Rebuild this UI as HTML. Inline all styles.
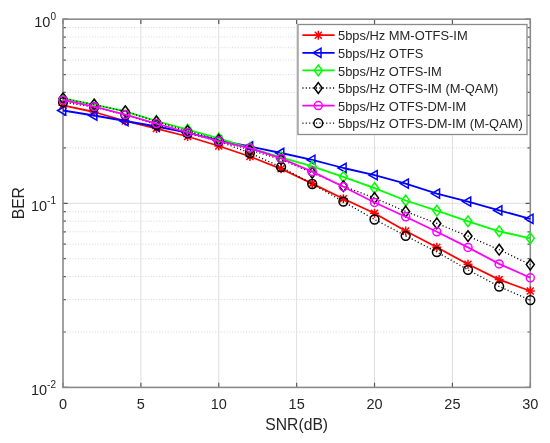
<!DOCTYPE html><html><head><meta charset="utf-8"><title>BER vs SNR</title><style>
html,body{margin:0;padding:0;background:#fff;}
svg{display:block;}
text{font-family:"Liberation Sans",Arial,Helvetica,sans-serif;fill:#262626;}
</style></head><body>
<svg width="550" height="443" viewBox="0 0 550 443">
<rect x="0" y="0" width="550" height="443" fill="#fff"/>
<path d="M64 331.98H529.3M64 299.56H529.3M64 276.56H529.3M64 258.72H529.3M64 244.14H529.3M64 231.82H529.3M64 221.14H529.3M64 211.72H529.3M64 147.88H529.3M64 115.46H529.3M64 92.46H529.3M64 74.62H529.3M64 60.04H529.3M64 47.72H529.3M64 37.04H529.3M64 27.62H529.3" stroke="#d9d9d9" stroke-width="1" stroke-dasharray="1.1 1.7" fill="none"/>
<path d="M140.88 20.2V386.4M218.77 20.2V386.4M296.65 20.2V386.4M374.53 20.2V386.4M452.42 20.2V386.4M64 203.3H529.3" stroke="#dedede" stroke-width="1" fill="none"/>
<path d="M63 387.4V382.7M63 19.2V23.9M140.88 387.4V382.7M140.88 19.2V23.9M218.77 387.4V382.7M218.77 19.2V23.9M296.65 387.4V382.7M296.65 19.2V23.9M374.53 387.4V382.7M374.53 19.2V23.9M452.42 387.4V382.7M452.42 19.2V23.9M530.3 387.4V382.7M530.3 19.2V23.9M63 387.4H67.7M530.3 387.4H525.6M63 331.98H65.82M530.3 331.98H527.48M63 299.56H65.82M530.3 299.56H527.48M63 276.56H65.82M530.3 276.56H527.48M63 258.72H65.82M530.3 258.72H527.48M63 244.14H65.82M530.3 244.14H527.48M63 231.82H65.82M530.3 231.82H527.48M63 221.14H65.82M530.3 221.14H527.48M63 211.72H65.82M530.3 211.72H527.48M63 203.3H67.7M530.3 203.3H525.6M63 147.88H65.82M530.3 147.88H527.48M63 115.46H65.82M530.3 115.46H527.48M63 92.46H65.82M530.3 92.46H527.48M63 74.62H65.82M530.3 74.62H527.48M63 60.04H65.82M530.3 60.04H527.48M63 47.72H65.82M530.3 47.72H527.48M63 37.04H65.82M530.3 37.04H527.48M63 27.62H65.82M530.3 27.62H527.48M63 19.2H67.7M530.3 19.2H525.6" stroke="#5a5a5a" stroke-width="1.2" fill="none"/>
<rect x="63" y="19.2" width="467.3" height="368.2" stroke="#8a8a8a" stroke-width="1.6" fill="none"/>
<polyline points="63,105.3 94.15,112 125.31,121 156.46,128.5 187.61,136.5 218.77,146 249.92,156.5 281.07,168.8 312.23,183.6 343.38,198.8 374.53,213.2 405.69,231 436.84,247.3 467.99,264.3 499.15,279.6 530.3,291" stroke="#ff0000" stroke-width="1.8" fill="none" stroke-linejoin="round"/>
<path d="M58.5 105.3H67.5M63 100.8V109.8M59.5 101.8L66.5 108.8M59.5 108.8L66.5 101.8" stroke="#ff0000" stroke-width="1.5" fill="none"/>
<path d="M89.65 112H98.65M94.15 107.5V116.5M90.65 108.5L97.65 115.5M90.65 115.5L97.65 108.5" stroke="#ff0000" stroke-width="1.5" fill="none"/>
<path d="M120.81 121H129.81M125.31 116.5V125.5M121.81 117.5L128.81 124.5M121.81 124.5L128.81 117.5" stroke="#ff0000" stroke-width="1.5" fill="none"/>
<path d="M151.96 128.5H160.96M156.46 124V133M152.96 125L159.96 132M152.96 132L159.96 125" stroke="#ff0000" stroke-width="1.5" fill="none"/>
<path d="M183.11 136.5H192.11M187.61 132V141M184.11 133L191.11 140M184.11 140L191.11 133" stroke="#ff0000" stroke-width="1.5" fill="none"/>
<path d="M214.27 146H223.27M218.77 141.5V150.5M215.27 142.5L222.27 149.5M215.27 149.5L222.27 142.5" stroke="#ff0000" stroke-width="1.5" fill="none"/>
<path d="M245.42 156.5H254.42M249.92 152V161M246.42 153L253.42 160M246.42 160L253.42 153" stroke="#ff0000" stroke-width="1.5" fill="none"/>
<path d="M276.57 168.8H285.57M281.07 164.3V173.3M277.57 165.3L284.57 172.3M277.57 172.3L284.57 165.3" stroke="#ff0000" stroke-width="1.5" fill="none"/>
<path d="M307.73 183.6H316.73M312.23 179.1V188.1M308.73 180.1L315.73 187.1M308.73 187.1L315.73 180.1" stroke="#ff0000" stroke-width="1.5" fill="none"/>
<path d="M338.88 198.8H347.88M343.38 194.3V203.3M339.88 195.3L346.88 202.3M339.88 202.3L346.88 195.3" stroke="#ff0000" stroke-width="1.5" fill="none"/>
<path d="M370.03 213.2H379.03M374.53 208.7V217.7M371.03 209.7L378.03 216.7M371.03 216.7L378.03 209.7" stroke="#ff0000" stroke-width="1.5" fill="none"/>
<path d="M401.19 231H410.19M405.69 226.5V235.5M402.19 227.5L409.19 234.5M402.19 234.5L409.19 227.5" stroke="#ff0000" stroke-width="1.5" fill="none"/>
<path d="M432.34 247.3H441.34M436.84 242.8V251.8M433.34 243.8L440.34 250.8M433.34 250.8L440.34 243.8" stroke="#ff0000" stroke-width="1.5" fill="none"/>
<path d="M463.49 264.3H472.49M467.99 259.8V268.8M464.49 260.8L471.49 267.8M464.49 267.8L471.49 260.8" stroke="#ff0000" stroke-width="1.5" fill="none"/>
<path d="M494.65 279.6H503.65M499.15 275.1V284.1M495.65 276.1L502.65 283.1M495.65 283.1L502.65 276.1" stroke="#ff0000" stroke-width="1.5" fill="none"/>
<path d="M525.8 291H534.8M530.3 286.5V295.5M526.8 287.5L533.8 294.5M526.8 294.5L533.8 287.5" stroke="#ff0000" stroke-width="1.5" fill="none"/>
<polyline points="63,110.5 94.15,115.5 125.31,121 156.46,126.5 187.61,132.7 218.77,140.3 249.92,146.5 281.07,153 312.23,159.8 343.38,168 374.53,175.2 405.69,183.6 436.84,193.6 467.99,201.6 499.15,210.4 530.3,218.8" stroke="#0000ff" stroke-width="1.8" fill="none" stroke-linejoin="round"/>
<path d="M57.6 110.5L65.7 105.9L65.7 115.1Z" stroke="#0000ff" stroke-width="1.5" fill="none"/>
<path d="M88.75 115.5L96.85 110.9L96.85 120.1Z" stroke="#0000ff" stroke-width="1.5" fill="none"/>
<path d="M119.91 121L128.01 116.4L128.01 125.6Z" stroke="#0000ff" stroke-width="1.5" fill="none"/>
<path d="M151.06 126.5L159.16 121.9L159.16 131.1Z" stroke="#0000ff" stroke-width="1.5" fill="none"/>
<path d="M182.21 132.7L190.31 128.1L190.31 137.3Z" stroke="#0000ff" stroke-width="1.5" fill="none"/>
<path d="M213.37 140.3L221.47 135.7L221.47 144.9Z" stroke="#0000ff" stroke-width="1.5" fill="none"/>
<path d="M244.52 146.5L252.62 141.9L252.62 151.1Z" stroke="#0000ff" stroke-width="1.5" fill="none"/>
<path d="M275.67 153L283.77 148.4L283.77 157.6Z" stroke="#0000ff" stroke-width="1.5" fill="none"/>
<path d="M306.83 159.8L314.93 155.2L314.93 164.4Z" stroke="#0000ff" stroke-width="1.5" fill="none"/>
<path d="M337.98 168L346.08 163.4L346.08 172.6Z" stroke="#0000ff" stroke-width="1.5" fill="none"/>
<path d="M369.13 175.2L377.23 170.6L377.23 179.8Z" stroke="#0000ff" stroke-width="1.5" fill="none"/>
<path d="M400.29 183.6L408.39 179L408.39 188.2Z" stroke="#0000ff" stroke-width="1.5" fill="none"/>
<path d="M431.44 193.6L439.54 189L439.54 198.2Z" stroke="#0000ff" stroke-width="1.5" fill="none"/>
<path d="M462.59 201.6L470.69 197L470.69 206.2Z" stroke="#0000ff" stroke-width="1.5" fill="none"/>
<path d="M493.75 210.4L501.85 205.8L501.85 215Z" stroke="#0000ff" stroke-width="1.5" fill="none"/>
<path d="M524.9 218.8L533 214.2L533 223.4Z" stroke="#0000ff" stroke-width="1.5" fill="none"/>
<polyline points="63,98.4 94.15,104.6 125.31,111.3 156.46,121 187.61,129.6 218.77,138.4 249.92,148 281.07,157.4 312.23,166.4 343.38,176.8 374.53,188.1 405.69,200.5 436.84,210.7 467.99,221.3 499.15,231.3 530.3,238.3" stroke="#00ff00" stroke-width="1.8" fill="none" stroke-linejoin="round"/>
<path d="M63 93L67 98.4L63 103.8L59 98.4Z" stroke="#00ff00" stroke-width="1.5" fill="none"/>
<path d="M94.15 99.2L98.15 104.6L94.15 110L90.15 104.6Z" stroke="#00ff00" stroke-width="1.5" fill="none"/>
<path d="M125.31 105.9L129.31 111.3L125.31 116.7L121.31 111.3Z" stroke="#00ff00" stroke-width="1.5" fill="none"/>
<path d="M156.46 115.6L160.46 121L156.46 126.4L152.46 121Z" stroke="#00ff00" stroke-width="1.5" fill="none"/>
<path d="M187.61 124.2L191.61 129.6L187.61 135L183.61 129.6Z" stroke="#00ff00" stroke-width="1.5" fill="none"/>
<path d="M218.77 133L222.77 138.4L218.77 143.8L214.77 138.4Z" stroke="#00ff00" stroke-width="1.5" fill="none"/>
<path d="M249.92 142.6L253.92 148L249.92 153.4L245.92 148Z" stroke="#00ff00" stroke-width="1.5" fill="none"/>
<path d="M281.07 152L285.07 157.4L281.07 162.8L277.07 157.4Z" stroke="#00ff00" stroke-width="1.5" fill="none"/>
<path d="M312.23 161L316.23 166.4L312.23 171.8L308.23 166.4Z" stroke="#00ff00" stroke-width="1.5" fill="none"/>
<path d="M343.38 171.4L347.38 176.8L343.38 182.2L339.38 176.8Z" stroke="#00ff00" stroke-width="1.5" fill="none"/>
<path d="M374.53 182.7L378.53 188.1L374.53 193.5L370.53 188.1Z" stroke="#00ff00" stroke-width="1.5" fill="none"/>
<path d="M405.69 195.1L409.69 200.5L405.69 205.9L401.69 200.5Z" stroke="#00ff00" stroke-width="1.5" fill="none"/>
<path d="M436.84 205.3L440.84 210.7L436.84 216.1L432.84 210.7Z" stroke="#00ff00" stroke-width="1.5" fill="none"/>
<path d="M467.99 215.9L471.99 221.3L467.99 226.7L463.99 221.3Z" stroke="#00ff00" stroke-width="1.5" fill="none"/>
<path d="M499.15 225.9L503.15 231.3L499.15 236.7L495.15 231.3Z" stroke="#00ff00" stroke-width="1.5" fill="none"/>
<path d="M530.3 232.9L534.3 238.3L530.3 243.7L526.3 238.3Z" stroke="#00ff00" stroke-width="1.5" fill="none"/>
<polyline points="63,98.4 94.15,104.6 125.31,111.3 156.46,121.5 187.61,131 218.77,140 249.92,150 281.07,159.4 312.23,172.8 343.38,186.2 374.53,198 405.69,211.5 436.84,223.4 467.99,236.1 499.15,249.7 530.3,264.6" stroke="#000000" stroke-width="1.3" stroke-dasharray="1.1 2.3" fill="none"/>
<path d="M63 93L67 98.4L63 103.8L59 98.4Z" stroke="#000000" stroke-width="1.5" fill="none"/>
<path d="M94.15 99.2L98.15 104.6L94.15 110L90.15 104.6Z" stroke="#000000" stroke-width="1.5" fill="none"/>
<path d="M125.31 105.9L129.31 111.3L125.31 116.7L121.31 111.3Z" stroke="#000000" stroke-width="1.5" fill="none"/>
<path d="M156.46 116.1L160.46 121.5L156.46 126.9L152.46 121.5Z" stroke="#000000" stroke-width="1.5" fill="none"/>
<path d="M187.61 125.6L191.61 131L187.61 136.4L183.61 131Z" stroke="#000000" stroke-width="1.5" fill="none"/>
<path d="M218.77 134.6L222.77 140L218.77 145.4L214.77 140Z" stroke="#000000" stroke-width="1.5" fill="none"/>
<path d="M249.92 144.6L253.92 150L249.92 155.4L245.92 150Z" stroke="#000000" stroke-width="1.5" fill="none"/>
<path d="M281.07 154L285.07 159.4L281.07 164.8L277.07 159.4Z" stroke="#000000" stroke-width="1.5" fill="none"/>
<path d="M312.23 167.4L316.23 172.8L312.23 178.2L308.23 172.8Z" stroke="#000000" stroke-width="1.5" fill="none"/>
<path d="M343.38 180.8L347.38 186.2L343.38 191.6L339.38 186.2Z" stroke="#000000" stroke-width="1.5" fill="none"/>
<path d="M374.53 192.6L378.53 198L374.53 203.4L370.53 198Z" stroke="#000000" stroke-width="1.5" fill="none"/>
<path d="M405.69 206.1L409.69 211.5L405.69 216.9L401.69 211.5Z" stroke="#000000" stroke-width="1.5" fill="none"/>
<path d="M436.84 218L440.84 223.4L436.84 228.8L432.84 223.4Z" stroke="#000000" stroke-width="1.5" fill="none"/>
<path d="M467.99 230.7L471.99 236.1L467.99 241.5L463.99 236.1Z" stroke="#000000" stroke-width="1.5" fill="none"/>
<path d="M499.15 244.3L503.15 249.7L499.15 255.1L495.15 249.7Z" stroke="#000000" stroke-width="1.5" fill="none"/>
<path d="M530.3 259.2L534.3 264.6L530.3 270L526.3 264.6Z" stroke="#000000" stroke-width="1.5" fill="none"/>
<polyline points="63,102.1 94.15,107.2 125.31,114.8 156.46,124.8 187.61,133.2 218.77,141.3 249.92,153 281.07,167 312.23,184 343.38,201.6 374.53,219.5 405.69,235.8 436.84,252 467.99,269.8 499.15,286.5 530.3,300.1" stroke="#000000" stroke-width="1.3" stroke-dasharray="1.1 2.3" fill="none"/>
<circle cx="63" cy="102.1" r="4.4" stroke="#000000" stroke-width="1.5" fill="none"/>
<circle cx="94.15" cy="107.2" r="4.4" stroke="#000000" stroke-width="1.5" fill="none"/>
<circle cx="125.31" cy="114.8" r="4.4" stroke="#000000" stroke-width="1.5" fill="none"/>
<circle cx="156.46" cy="124.8" r="4.4" stroke="#000000" stroke-width="1.5" fill="none"/>
<circle cx="187.61" cy="133.2" r="4.4" stroke="#000000" stroke-width="1.5" fill="none"/>
<circle cx="218.77" cy="141.3" r="4.4" stroke="#000000" stroke-width="1.5" fill="none"/>
<circle cx="249.92" cy="153" r="4.4" stroke="#000000" stroke-width="1.5" fill="none"/>
<circle cx="281.07" cy="167" r="4.4" stroke="#000000" stroke-width="1.5" fill="none"/>
<circle cx="312.23" cy="184" r="4.4" stroke="#000000" stroke-width="1.5" fill="none"/>
<circle cx="343.38" cy="201.6" r="4.4" stroke="#000000" stroke-width="1.5" fill="none"/>
<circle cx="374.53" cy="219.5" r="4.4" stroke="#000000" stroke-width="1.5" fill="none"/>
<circle cx="405.69" cy="235.8" r="4.4" stroke="#000000" stroke-width="1.5" fill="none"/>
<circle cx="436.84" cy="252" r="4.4" stroke="#000000" stroke-width="1.5" fill="none"/>
<circle cx="467.99" cy="269.8" r="4.4" stroke="#000000" stroke-width="1.5" fill="none"/>
<circle cx="499.15" cy="286.5" r="4.4" stroke="#000000" stroke-width="1.5" fill="none"/>
<circle cx="530.3" cy="300.1" r="4.4" stroke="#000000" stroke-width="1.5" fill="none"/>
<polyline points="63,100 94.15,106.6 125.31,114.6 156.46,123.6 187.61,132.5 218.77,141.1 249.92,148.1 281.07,158.4 312.23,171.6 343.38,186.7 374.53,202.5 405.69,216.8 436.84,231.8 467.99,247.4 499.15,263.9 530.3,277.8" stroke="#ff00ff" stroke-width="1.8" fill="none" stroke-linejoin="round"/>
<circle cx="63" cy="100" r="4.0" stroke="#ff00ff" stroke-width="1.5" fill="none"/>
<circle cx="94.15" cy="106.6" r="4.0" stroke="#ff00ff" stroke-width="1.5" fill="none"/>
<circle cx="125.31" cy="114.6" r="4.0" stroke="#ff00ff" stroke-width="1.5" fill="none"/>
<circle cx="156.46" cy="123.6" r="4.0" stroke="#ff00ff" stroke-width="1.5" fill="none"/>
<circle cx="187.61" cy="132.5" r="4.0" stroke="#ff00ff" stroke-width="1.5" fill="none"/>
<circle cx="218.77" cy="141.1" r="4.0" stroke="#ff00ff" stroke-width="1.5" fill="none"/>
<circle cx="249.92" cy="148.1" r="4.0" stroke="#ff00ff" stroke-width="1.5" fill="none"/>
<circle cx="281.07" cy="158.4" r="4.0" stroke="#ff00ff" stroke-width="1.5" fill="none"/>
<circle cx="312.23" cy="171.6" r="4.0" stroke="#ff00ff" stroke-width="1.5" fill="none"/>
<circle cx="343.38" cy="186.7" r="4.0" stroke="#ff00ff" stroke-width="1.5" fill="none"/>
<circle cx="374.53" cy="202.5" r="4.0" stroke="#ff00ff" stroke-width="1.5" fill="none"/>
<circle cx="405.69" cy="216.8" r="4.0" stroke="#ff00ff" stroke-width="1.5" fill="none"/>
<circle cx="436.84" cy="231.8" r="4.0" stroke="#ff00ff" stroke-width="1.5" fill="none"/>
<circle cx="467.99" cy="247.4" r="4.0" stroke="#ff00ff" stroke-width="1.5" fill="none"/>
<circle cx="499.15" cy="263.9" r="4.0" stroke="#ff00ff" stroke-width="1.5" fill="none"/>
<circle cx="530.3" cy="277.8" r="4.0" stroke="#ff00ff" stroke-width="1.5" fill="none"/>
<text x="63" y="409" font-size="14.5" text-anchor="middle">0</text>
<text x="140.88" y="409" font-size="14.5" text-anchor="middle">5</text>
<text x="218.77" y="409" font-size="14.5" text-anchor="middle">10</text>
<text x="296.65" y="409" font-size="14.5" text-anchor="middle">15</text>
<text x="374.53" y="409" font-size="14.5" text-anchor="middle">20</text>
<text x="452.42" y="409" font-size="14.5" text-anchor="middle">25</text>
<text x="530.3" y="409" font-size="14.5" text-anchor="middle">30</text>
<text x="56" y="27.2" font-size="14.5" text-anchor="end">10<tspan font-size="10" dy="-7.2">0</tspan></text>
<text x="56" y="211.3" font-size="14.5" text-anchor="end">10<tspan font-size="10" dy="-7.2">-1</tspan></text>
<text x="56" y="395.4" font-size="14.5" text-anchor="end">10<tspan font-size="10" dy="-7.2">-2</tspan></text>
<text x="296.7" y="429.5" font-size="15.7" text-anchor="middle">SNR(dB)</text>
<text transform="translate(23.5 203.2) rotate(-90)" font-size="15.7" text-anchor="middle">BER</text>
<rect x="297.95" y="24.5" width="229.05" height="110" fill="#fff" stroke="#8a8a8a" stroke-width="1.3"/>
<path d="M302.4 35.2H334.6" stroke="#ff0000" stroke-width="1.8" fill="none"/>
<path d="M313.8 35.2H322.8M318.3 30.7V39.7M314.8 31.7L321.8 38.7M314.8 38.7L321.8 31.7" stroke="#ff0000" stroke-width="1.5" fill="none"/>
<text x="338" y="40.3" font-size="12.9">5bps/Hz MM-OTFS-IM</text>
<path d="M302.4 52.8H334.6" stroke="#0000ff" stroke-width="1.8" fill="none"/>
<path d="M312.9 52.8L321 48.2L321 57.4Z" stroke="#0000ff" stroke-width="1.5" fill="none"/>
<text x="338" y="57.9" font-size="12.9">5bps/Hz OTFS</text>
<path d="M302.4 70.4H334.6" stroke="#00ff00" stroke-width="1.8" fill="none"/>
<path d="M318.3 65L322.3 70.4L318.3 75.8L314.3 70.4Z" stroke="#00ff00" stroke-width="1.5" fill="none"/>
<text x="338" y="75.5" font-size="12.9">5bps/Hz OTFS-IM</text>
<path d="M302.4 88H334.6" stroke="#000000" stroke-width="1.3" stroke-dasharray="1.1 2.3" fill="none"/>
<path d="M318.3 82.6L322.3 88L318.3 93.4L314.3 88Z" stroke="#000000" stroke-width="1.5" fill="none"/>
<text x="338" y="93.1" font-size="12.9">5bps/Hz OTFS-IM (M-QAM)</text>
<path d="M302.4 105.6H334.6" stroke="#ff00ff" stroke-width="1.8" fill="none"/>
<circle cx="318.3" cy="105.6" r="4.0" stroke="#ff00ff" stroke-width="1.5" fill="none"/>
<text x="338" y="110.7" font-size="12.9">5bps/Hz OTFS-DM-IM</text>
<path d="M302.4 123.2H334.6" stroke="#000000" stroke-width="1.3" stroke-dasharray="1.1 2.3" fill="none"/>
<circle cx="318.3" cy="123.2" r="4.4" stroke="#000000" stroke-width="1.5" fill="none"/>
<text x="338" y="128.3" font-size="12.9">5bps/Hz OTFS-DM-IM (M-QAM)</text>
</svg></body></html>
